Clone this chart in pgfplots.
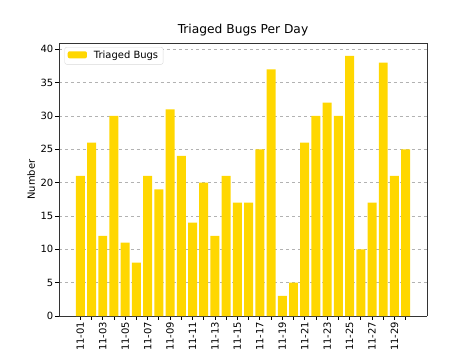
\documentclass[border=0pt]{standalone}
\usepackage{fontspec}
\setmainfont{DejaVu Sans}
\usepackage{pgfplots}
\pgfplotsset{compat=1.18}
\definecolor{gold}{HTML}{FFD700}
\begin{document}
\begin{tikzpicture}
\begin{axis}[
  name=ax,
  scale only axis,
  width=368bp, height=273bp,
  xmin=-1.9, xmax=30.9,
  ymin=0, ymax=40.95,
  ytick={0,5,...,40},
  xtick={0,...,29},
  xticklabels={11-01,,11-03,,11-05,,11-07,,11-09,,11-11,,11-13,,11-15,,11-17,,11-19,,11-21,,11-23,,11-25,,11-27,,11-29,},
  x tick label style={rotate=90, anchor=east, font=\fontsize{10}{12}\selectfont, inner sep=2pt},
  y tick label style={font=\fontsize{10}{12}\selectfont, inner sep=2pt},
  /pgf/number format/assume math mode=true,
  tick align=outside,
  axis x line*=bottom, axis y line*=left,
  xtick pos=bottom, ytick pos=left,
  major tick length=3.6bp,
  tick style={black, line width=0.8bp},
  axis line style={black!80, line width=0.8bp},
  ymajorgrids,
  grid style={dashed, gray!60, line width=0.6bp},
  title={Triaged Bugs Per Day},
  title style={font=\fontsize{12.3}{14}\selectfont, yshift=-3bp},
  ylabel={Number},
  ylabel style={font=\fontsize{10}{12}\selectfont},
  legend pos=north west,
  legend style={font=\fontsize{10}{12}\selectfont, draw=gray!30, rounded corners=2pt, inner xsep=3pt, inner ysep=2pt, at={(0.015,0.985)}},
  legend image code/.code={\fill[gold] (0cm,-0.09cm) rectangle (0.68cm,0.16cm);},
  clip=false,
]
\draw[black!80, line width=0.8bp] (rel axis cs:0,1) -- (rel axis cs:1,1) -- (rel axis cs:1,0);
\addplot[ybar, bar width=0.8, fill=gold, draw=none] coordinates {
(0,21) (1,26) (2,12) (3,30) (4,11) (5,8) (6,21) (7,19) (8,31) (9,24)
(10,14) (11,20) (12,12) (13,21) (14,17) (15,17) (16,25) (17,37) (18,3) (19,5)
(20,26) (21,30) (22,32) (23,30) (24,39) (25,10) (26,17) (27,38) (28,21) (29,25)
};
\addlegendentry{\hspace{5bp}Triaged Bugs\hspace{2bp}}
\end{axis}
\pgfresetboundingbox
\path ([shift={(-59bp,-39bp)}]ax.south west) rectangle ([shift={(47bp,43bp)}]ax.north east);
\end{tikzpicture}
\end{document}
